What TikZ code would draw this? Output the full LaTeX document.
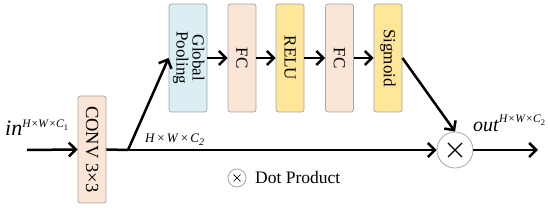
\documentclass[tikz,border=0pt]{standalone}
\usepackage{fontspec}
\setmainfont{Liberation Serif}
\usepackage{graphicx}
\usetikzlibrary{arrows.meta}
\definecolor{cblue}{HTML}{DAEEF3}
\definecolor{cpeach}{HTML}{FBE5D6}
\definecolor{cyellow}{HTML}{FFE699}
\definecolor{bordergray}{HTML}{A6A6A6}
\begin{document}
\begin{tikzpicture}[x=1pt,y=1pt,
  box/.style={draw=bordergray, line width=0.8pt, rounded corners=2.5pt, minimum height=108pt, minimum width=28pt, inner sep=0pt, font=\fontsize{17}{17}\selectfont},
  arr/.style={line width=2.5pt, -{Straight Barb[length=7pt,width=14pt]}},
  ln/.style={line width=2.5pt},
  mulnode/.style={circle, draw=bordergray, line width=0.8pt, fill=white, inner sep=0pt},
  lbl/.style={inner sep=0pt}]
\useasboundingbox (0,0) rectangle (550,208);
% boxes
\node[box, fill=cpeach, minimum height=107pt, font=\fontsize{18.5}{18.5}\selectfont] (conv) at (92,58.5) {\rotatebox{-90}{CONV 3\kern0.5pt×\kern0.5pt3}};
\node[box, fill=cblue, minimum width=38pt] (gp) at (188,150) {\rotatebox{-90}{\begin{tabular}{@{}c@{}}Global\\[-1pt]Pooling\end{tabular}}};
\node[box, fill=cpeach] (fc1) at (242,150) {\rotatebox{-90}{FC}};
\node[box, fill=cyellow] (relu) at (290,150) {\rotatebox{-90}{RELU}};
\node[box, fill=cpeach] (fc2) at (339.5,150) {\rotatebox{-90}{FC}};
\node[box, fill=cyellow] (sig) at (388,150) {\rotatebox{-90}{Sigmoid}};
% multiplication node
\node[mulnode, minimum size=36pt] (mul) at (455,58) {};
\draw[line width=1.2pt] (mul.center) ++(-7,-7) -- ++(14,14);
\draw[line width=1.2pt] (mul.center) ++(-7,7) -- ++(14,-14);
% coordinates
\coordinate (in) at (27,58);
\coordinate (br) at (128,58);
\coordinate (out) at (538,58);
% connectors
\draw[arr] (in) -- (conv.west);
\draw[ln] (conv.east) -- (br);
\draw[arr] (br) -- (mul.west);
\draw[arr] (br) -- (gp.west);
\draw[arr] (gp.east) -- (fc1.west);
\draw[arr] (fc1.east) -- (relu.west);
\draw[arr] (relu.east) -- (fc2.west);
\draw[arr] (fc2.east) -- (sig.west);
\draw[arr] (sig.east) -- (mul.north);
\draw[arr] (mul.east) -- (out);
% labels
\node[lbl, anchor=base west] (inlbl) at (5,72) {\fontsize{22}{22}\selectfont\textit{in}\raisebox{8pt}{\fontsize{11.5}{11.5}\selectfont\textit{H}\kern0.4pt×\kern0.4pt\textit{W}\kern0.4pt×\kern0.4pt\textit{C}\raisebox{-2.5pt}{\fontsize{8.5}{8.5}\selectfont 1}}};
\node[lbl, anchor=base west] (midlbl) at (145,65) {\fontsize{13}{13}\selectfont\textit{H}\,×\,\textit{W}\,×\,\textit{C}\raisebox{-2.5pt}{\fontsize{10}{10}\selectfont\textit{2}}};
\node[lbl, anchor=base west] (outlbl) at (473,76) {\fontsize{20}{20}\selectfont\textit{out}\raisebox{9pt}{\fontsize{11.5}{11.5}\selectfont\textit{H}\kern0.4pt×\kern0.4pt\textit{W}\kern0.4pt×\kern0.4pt\textit{C}\raisebox{-2.5pt}{\fontsize{8.5}{8.5}\selectfont 2}}};
% legend
\node[mulnode, minimum size=18pt] (leg) at (237,30) {};
\draw[line width=0.7pt] (leg.center) ++(-3.5,-3.5) -- ++(7,7);
\draw[line width=0.7pt] (leg.center) ++(-3.5,3.5) -- ++(7,-7);
\node[lbl, anchor=west, font=\fontsize{17.5}{17.5}\selectfont] (legtxt) at (255,30) {Dot Product};
\end{tikzpicture}
\end{document}
